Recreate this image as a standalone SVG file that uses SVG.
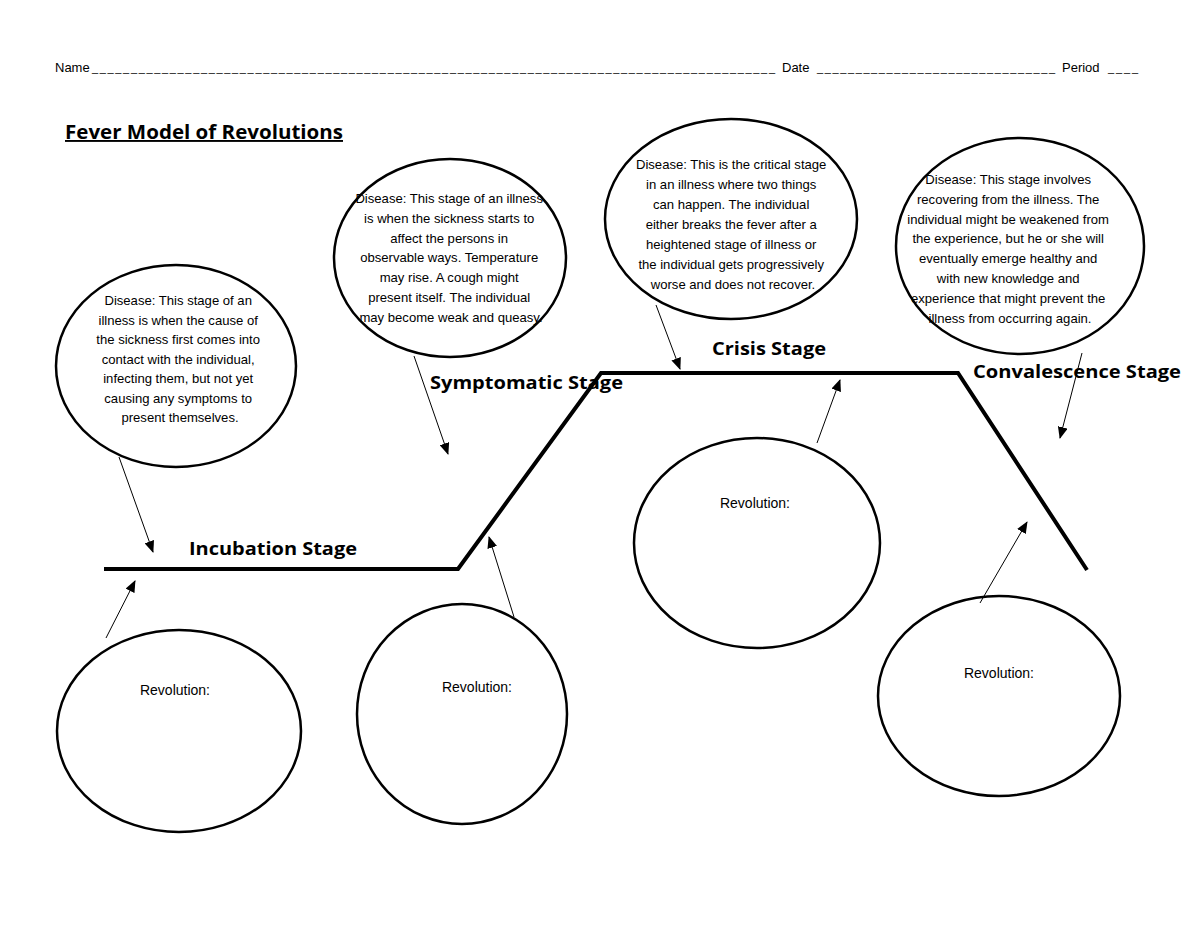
<svg xmlns="http://www.w3.org/2000/svg" width="1200" height="927" viewBox="0 0 1200 927">
<defs>
<marker id="ah" markerWidth="12" markerHeight="10" refX="11" refY="5" orient="auto" markerUnits="userSpaceOnUse">
<path d="M0,0 L12,5 L0,10 Z" fill="#000"/>
</marker>
</defs>
<style>
.hd{font-family:"Liberation Sans",Arial,sans-serif;font-size:13px;fill:#000}
.us{font-family:"Liberation Sans",Arial,sans-serif;font-size:11px;fill:#000}
.ti{font-family:"Open Sans","Liberation Sans",sans-serif;font-size:19px;font-weight:bold;text-decoration:underline;fill:#000}
.st{font-family:"Open Sans","Liberation Sans",sans-serif;font-size:18px;font-weight:bold;fill:#000}
.bx{font-family:"Liberation Sans",Arial,sans-serif;font-size:13.1px;fill:#000;text-anchor:middle}
.rv{font-family:"Liberation Sans",Arial,sans-serif;font-size:14px;fill:#000;text-anchor:middle}
.el{fill:#fff;stroke:#000;stroke-width:2.5}
.ar{stroke:#000;stroke-width:1;fill:none;marker-end:url(#ah)}
.fv{stroke:#000;stroke-width:4;fill:none;stroke-linejoin:miter}
</style>
<rect width="1200" height="927" fill="#fff"/>
<g id="header">
<text class="hd" x="55" y="72">Name</text>
<text class="us" x="92" y="72" textLength="683" lengthAdjust="spacing">________________________________________________________________________________________</text>
<text class="hd" x="782" y="72">Date</text>
<text class="us" x="817" y="72" textLength="238" lengthAdjust="spacing">_______________________________</text>
<text class="hd" x="1062" y="72">Period</text>
<text class="us" x="1108" y="72" textLength="30" lengthAdjust="spacing">____</text>
</g>
<g id="title">
<text class="ti" x="65" y="139" textLength="278" lengthAdjust="spacingAndGlyphs">Fever Model of Revolutions</text>
</g>
<g id="fever-line">
<polyline class="fv" points="104,569 458,569 601,373 958,373 1087,570"/>
</g>
<g id="stage-labels">
<text class="st" x="189" y="555" textLength="168" lengthAdjust="spacingAndGlyphs">Incubation Stage</text>
<text class="st" x="430" y="389" textLength="193" lengthAdjust="spacingAndGlyphs">Symptomatic Stage</text>
<text class="st" x="712" y="355" textLength="114" lengthAdjust="spacingAndGlyphs">Crisis Stage</text>
<text class="st" x="973" y="378" textLength="208" lengthAdjust="spacingAndGlyphs">Convalescence Stage</text>
</g>
<g id="disease-incubation">
<ellipse class="el" cx="176" cy="366" rx="120" ry="101"/>
<text class="bx" x="180" y="305">
<tspan x="180" dy="0">Disease: This stage of an</tspan>
<tspan x="180" dy="19.5">illness is when the cause of</tspan>
<tspan x="180" dy="19.5">the sickness first comes into</tspan>
<tspan x="180" dy="19.5">contact with the individual,</tspan>
<tspan x="180" dy="19.5">infecting them, but not yet</tspan>
<tspan x="180" dy="19.5">causing any symptoms to</tspan>
<tspan x="180" dy="19.5">present themselves.</tspan>
</text>
</g>
<g id="disease-symptomatic">
<ellipse class="el" cx="450" cy="258" rx="116" ry="99"/>
<text class="bx" x="451" y="203">
<tspan x="451" dy="0">Disease: This stage of an illness</tspan>
<tspan x="451" dy="19.8">is when the sickness starts to</tspan>
<tspan x="451" dy="19.8">affect the persons in</tspan>
<tspan x="451" dy="19.8">observable ways. Temperature</tspan>
<tspan x="451" dy="19.8">may rise. A cough might</tspan>
<tspan x="451" dy="19.8">present itself. The individual</tspan>
<tspan x="451" dy="19.8">may become weak and queasy.</tspan>
</text>
</g>
<g id="disease-crisis">
<ellipse class="el" cx="731" cy="219" rx="126" ry="100"/>
<text class="bx" x="733" y="169">
<tspan x="733" dy="0">Disease: This is the critical stage</tspan>
<tspan x="733" dy="20">in an illness where two things</tspan>
<tspan x="733" dy="20">can happen. The individual</tspan>
<tspan x="733" dy="20">either breaks the fever after a</tspan>
<tspan x="733" dy="20">heightened stage of illness or</tspan>
<tspan x="733" dy="20">the individual gets progressively</tspan>
<tspan x="733" dy="20">worse and does not recover.</tspan>
</text>
</g>
<g id="disease-convalescence">
<ellipse class="el" cx="1020" cy="246" rx="124" ry="108"/>
<text class="bx" x="1010" y="184">
<tspan x="1010" dy="0">Disease: This stage involves</tspan>
<tspan x="1010" dy="19.8">recovering from the illness. The</tspan>
<tspan x="1010" dy="19.8">individual might be weakened from</tspan>
<tspan x="1010" dy="19.8">the experience, but he or she will</tspan>
<tspan x="1010" dy="19.8">eventually emerge healthy and</tspan>
<tspan x="1010" dy="19.8">with new knowledge and</tspan>
<tspan x="1010" dy="19.8">experience that might prevent the</tspan>
<tspan x="1010" dy="19.8">illness from occurring again.</tspan>
</text>
</g>
<g id="revolution-1">
<ellipse class="el" cx="179" cy="731" rx="122" ry="101"/>
<text class="rv" x="175" y="695">Revolution:</text>
</g>
<g id="revolution-2">
<ellipse class="el" cx="462" cy="714" rx="105" ry="110"/>
<text class="rv" x="477" y="692">Revolution:</text>
</g>
<g id="revolution-3">
<ellipse class="el" cx="757" cy="543" rx="123" ry="105"/>
<text class="rv" x="755" y="508">Revolution:</text>
</g>
<g id="revolution-4">
<ellipse class="el" cx="999" cy="696" rx="121" ry="100"/>
<text class="rv" x="999" y="678">Revolution:</text>
</g>
<g id="connectors">
<line class="ar" x1="119" y1="457" x2="153" y2="552"/>
<line class="ar" x1="106" y1="638" x2="135" y2="581"/>
<line class="ar" x1="414" y1="356" x2="448" y2="454"/>
<line class="ar" x1="514" y1="617" x2="489" y2="537"/>
<line class="ar" x1="656" y1="305" x2="680" y2="369"/>
<line class="ar" x1="817" y1="443" x2="840" y2="380"/>
<line class="ar" x1="1082" y1="353" x2="1060" y2="438"/>
<line class="ar" x1="980" y1="603" x2="1027" y2="522"/>
</g>
</svg>
